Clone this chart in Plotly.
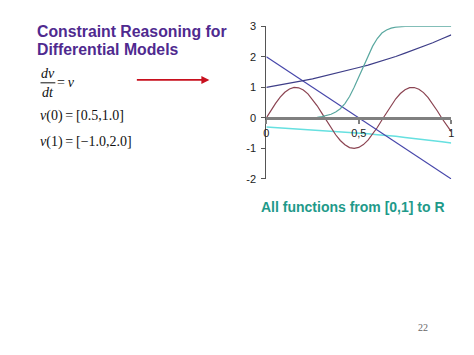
import plotly.graph_objects as go

W, H = 474, 355

# ---- data ----
t_fine = [i / 40 for i in range(41)]
t_coarse = [i / 20 for i in range(21)]

sigmoid_vals = [0, 0, 0, 0, 0, 0, 0, 0, 0, 0.005,
                0.01, 0.02, 0.04, 0.07, 0.12, 0.19, 0.3, 0.47, 0.7, 1.0,
                1.33, 1.65, 2.02, 2.35, 2.6, 2.78, 2.88, 2.94, 2.97, 2.99,
                3.0, 3.0, 3.0, 3.0, 3.0, 3.0, 3.0, 3.0, 3.0, 3.0, 3.0]

sine_vals = [0, 0.246, 0.477, 0.678, 0.838, 0.947, 0.997, 0.986, 0.914, 0.786,
             0.609, 0.396, 0.158, -0.089, -0.331, -0.553, -0.740, -0.882, -0.972, -1.0,
             -0.967, -0.876, -0.729, -0.538, -0.315, -0.069, 0.178, 0.415, 0.626, 0.797,
             0.922, 0.989, 0.995, 0.940, 0.828, 0.665, 0.461, 0.225, -0.02, -0.25, -0.45]

exp_vals = [1.00, 1.05, 1.11, 1.16, 1.22, 1.28, 1.35, 1.42, 1.49, 1.57, 1.65,
            1.73, 1.82, 1.92, 2.01, 2.12, 2.23, 2.34, 2.46, 2.59, 2.72]

line_t = [0, 1]
line_vals = [2, -2]

cyan_vals = [-0.30, -0.32, -0.33, -0.35, -0.37, -0.38, -0.40, -0.43, -0.45, -0.47, -0.49,
             -0.52, -0.55, -0.57, -0.60, -0.64, -0.67, -0.70, -0.74, -0.78, -0.82]

x_tickvals = [0, 0.5, 1]
x_ticktext = ["0", "0,5", "1"]
y_tickvals = [-2, -1, 0, 1, 2, 3]
y_ticktext = ["-2", "-1", "0", "1", "2", "3"]


def px(x):
    return x / W


def py(y):
    return 1 - y / H


fig = go.Figure()
fig.add_trace(go.Scatter(x=t_coarse, y=cyan_vals, mode="lines",
                         line=dict(color="#66e0e0", width=1.6), showlegend=False))
fig.add_trace(go.Scatter(x=t_fine, y=sine_vals, mode="lines",
                         line=dict(color="#8b4452", width=1.2), showlegend=False))
fig.add_trace(go.Scatter(x=line_t, y=line_vals, mode="lines",
                         line=dict(color="#4646aa", width=1.2), showlegend=False))
fig.add_trace(go.Scatter(x=t_coarse, y=exp_vals, mode="lines",
                         line=dict(color="#3e3e88", width=1.2), showlegend=False))
fig.add_trace(go.Scatter(x=t_fine, y=sigmoid_vals, mode="lines",
                         line=dict(color="#5aa8a0", width=1.2), showlegend=False))

x0_px, x1_px = 266.7, 454.0
ytop_px, ybot_px = 21.0, 179.0
zero_px = 115.8

fig.update_layout(
    width=W, height=H,
    margin=dict(l=0, r=0, t=0, b=0),
    paper_bgcolor="white", plot_bgcolor="white",
    font=dict(family="Liberation Sans, Arial, sans-serif", size=11, color="#222"),
    xaxis=dict(domain=[px(x0_px), px(x1_px)], range=[0, 1],
               anchor="free", position=py(zero_px),
               showline=True, linecolor="#808080", linewidth=2.5,
               ticks="outside", ticklen=4, tickcolor="#808080", tickwidth=1.5,
               tickvals=x_tickvals, ticktext=x_ticktext,
               showgrid=False, zeroline=False,
               tickfont=dict(size=11, color="#222")),
    yaxis=dict(domain=[py(ybot_px), py(ytop_px)], range=[-2, 3],
               showline=True, linecolor="#555", linewidth=1,
               ticks="outside", ticklen=4, tickcolor="#555",
               tickvals=y_tickvals, ticktext=y_ticktext,
               ticklabelstandoff=3,
               showgrid=False, zeroline=False,
               tickfont=dict(size=11, color="#222")),
)

ann = []
title_color = "#4f2a8f"
ann.append(dict(x=px(32), y=py(26), text="<b>Constraint Reasoning for</b>",
                xanchor="left", yanchor="middle", showarrow=False,
                font=dict(size=15.8, color=title_color, family="Liberation Sans, Arial")))
ann.append(dict(x=px(32), y=py(45.5), text="<b>Differential Models</b>",
                xanchor="left", yanchor="middle", showarrow=False,
                font=dict(size=15.8, color=title_color, family="Liberation Sans, Arial")))

serif = "Liberation Serif, Times New Roman, serif"
eq_size = 14
ann.append(dict(x=px(45.5), y=py(70), text="<i>dv</i>", xanchor="center", yanchor="middle",
                showarrow=False, font=dict(size=eq_size, color="#111", family=serif)))
ann.append(dict(x=px(45.5), y=py(90), text="<i>dt</i>", xanchor="center", yanchor="middle",
                showarrow=False, font=dict(size=eq_size, color="#111", family=serif)))
ann.append(dict(x=px(53), y=py(79.5), text="=\u2009<i>v</i>", xanchor="left", yanchor="middle",
                showarrow=False, font=dict(size=eq_size, color="#111", family=serif)))
ann.append(dict(x=px(35), y=py(113.5), text="<i>v</i>(0)\u2009=\u2009[0.5,1.0]", xanchor="left",
                yanchor="middle", showarrow=False, font=dict(size=eq_size, color="#111", family=serif)))
ann.append(dict(x=px(35), y=py(140.5), text="<i>v</i>(1)\u2009=\u2009[\u22121.0,2.0]", xanchor="left",
                yanchor="middle", showarrow=False, font=dict(size=eq_size, color="#111", family=serif)))

# red arrow
ann.append(dict(x=px(209), y=py(76.5), ax=-74, ay=0, text="", showarrow=True,
                arrowhead=2, arrowsize=1, arrowwidth=1.6, arrowcolor="#c8101e",
                xref="paper", yref="paper"))

ann.append(dict(x=px(354), y=py(208), text="<b>All functions from [0,1] to R</b>",
                xanchor="center", yanchor="middle", showarrow=False,
                font=dict(size=14, color="#1f9a8a", family="Liberation Sans, Arial")))

ann.append(dict(x=px(425), y=py(333), text="22", xanchor="center", yanchor="middle",
                showarrow=False, font=dict(size=10, color="#666", family=serif)))

for a in ann:
    a.setdefault("xref", "paper")
    a.setdefault("yref", "paper")

fig.update_layout(annotations=ann,
                  shapes=[dict(type="line", xref="paper", yref="paper",
                               x0=px(38), x1=px(53), y0=py(79.5), y1=py(79.5),
                               line=dict(color="#111", width=1))])

fig.write_html("out.html")
